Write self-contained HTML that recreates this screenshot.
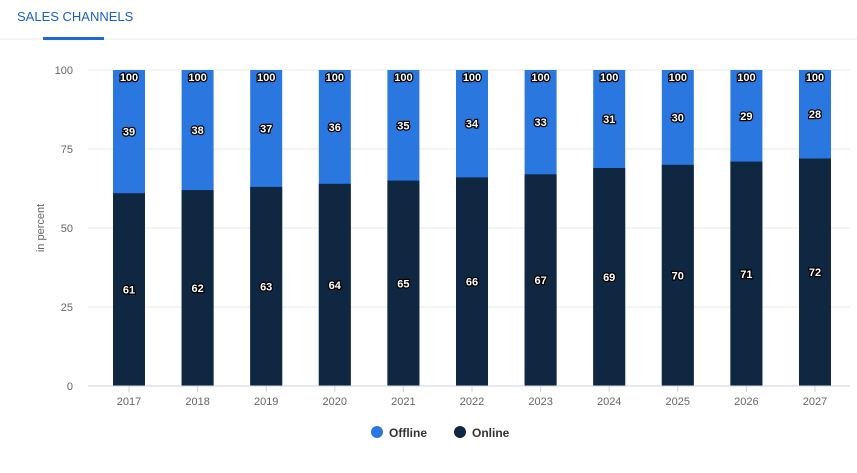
<!DOCTYPE html>
<html><head><style>
body{margin:0;background:#fff;width:857px;height:468px;overflow:hidden;font-family:"Liberation Sans",sans-serif}
.l{font:bold 11px "Liberation Sans",sans-serif;fill:#fff;stroke:#000;stroke-width:2.5px;paint-order:stroke;text-anchor:middle}
.t{font-size:11px;fill:#666;text-anchor:middle;font-family:"Liberation Sans",sans-serif}
.b{fill:#2a77e0}.d{fill:#0f2741}
</style></head><body>
<svg width="857" height="468" xmlns="http://www.w3.org/2000/svg">
<text x="17" y="21" font-family="Liberation Sans" font-size="13" fill="#1a5fc7">SALES CHANNELS</text>
<line x1="0" y1="39" x2="857" y2="39" stroke="#eceef1" stroke-width="1"/>
<rect x="43" y="37" width="61" height="3" fill="#1a6ad8"/>
<g stroke="#e6e8ec" stroke-width="1">
<line x1="88" y1="70" x2="850" y2="70"/><line x1="88" y1="149" x2="850" y2="149"/>
<line x1="88" y1="228" x2="850" y2="228"/><line x1="88" y1="307" x2="850" y2="307"/>
</g>
<g font-size="11" fill="#666" text-anchor="end" font-family="Liberation Sans">
<text x="73" y="74">100</text><text x="73" y="153">75</text><text x="73" y="232">50</text><text x="73" y="311">25</text><text x="73" y="390">0</text>
</g>
<text transform="translate(44,228) rotate(-90)" font-size="11" fill="#666" text-anchor="middle" font-family="Liberation Sans">in percent</text>

<g id="b0"><rect class="b" x="113" y="70" width="32" height="316"/><rect class="d" x="113" y="193.2" width="32" height="192.8"/>
<text class="l" x="129" y="81">100</text><text class="l" x="129" y="135.6">39</text><text class="l" x="129" y="293.6">61</text><text class="t" x="129" y="405">2017</text></g>
<g><rect class="b" x="181.6" y="70" width="32" height="316"/><rect class="d" x="181.6" y="190.1" width="32" height="195.9"/>
<text class="l" x="197.6" y="81">100</text><text class="l" x="197.6" y="134">38</text><text class="l" x="197.6" y="292">62</text><text class="t" x="197.6" y="405">2018</text></g>
<g><rect class="b" x="250.2" y="70" width="32" height="316"/><rect class="d" x="250.2" y="186.9" width="32" height="199.1"/>
<text class="l" x="266.2" y="81">100</text><text class="l" x="266.2" y="132.5">37</text><text class="l" x="266.2" y="290.5">63</text><text class="t" x="266.2" y="405">2019</text></g>
<g><rect class="b" x="318.8" y="70" width="32" height="316"/><rect class="d" x="318.8" y="183.8" width="32" height="202.2"/>
<text class="l" x="334.8" y="81">100</text><text class="l" x="334.8" y="130.9">36</text><text class="l" x="334.8" y="288.9">64</text><text class="t" x="334.8" y="405">2020</text></g>
<g><rect class="b" x="387.4" y="70" width="32" height="316"/><rect class="d" x="387.4" y="180.6" width="32" height="205.4"/>
<text class="l" x="403.4" y="81">100</text><text class="l" x="403.4" y="129.3">35</text><text class="l" x="403.4" y="287.3">65</text><text class="t" x="403.4" y="405">2021</text></g>
<g><rect class="b" x="456" y="70" width="32" height="316"/><rect class="d" x="456" y="177.4" width="32" height="208.6"/>
<text class="l" x="472" y="81">100</text><text class="l" x="472" y="127.7">34</text><text class="l" x="472" y="285.7">66</text><text class="t" x="472" y="405">2022</text></g>
<g><rect class="b" x="524.6" y="70" width="32" height="316"/><rect class="d" x="524.6" y="174.3" width="32" height="211.7"/>
<text class="l" x="540.6" y="81">100</text><text class="l" x="540.6" y="126.1">33</text><text class="l" x="540.6" y="284.1">67</text><text class="t" x="540.6" y="405">2023</text></g>
<g><rect class="b" x="593.2" y="70" width="32" height="316"/><rect class="d" x="593.2" y="168" width="32" height="218"/>
<text class="l" x="609.2" y="81">100</text><text class="l" x="609.2" y="123">31</text><text class="l" x="609.2" y="281">69</text><text class="t" x="609.2" y="405">2024</text></g>
<g><rect class="b" x="661.8" y="70" width="32" height="316"/><rect class="d" x="661.8" y="164.8" width="32" height="221.2"/>
<text class="l" x="677.8" y="81">100</text><text class="l" x="677.8" y="121.4">30</text><text class="l" x="677.8" y="279.4">70</text><text class="t" x="677.8" y="405">2025</text></g>
<g><rect class="b" x="730.4" y="70" width="32" height="316"/><rect class="d" x="730.4" y="161.6" width="32" height="224.4"/>
<text class="l" x="746.4" y="81">100</text><text class="l" x="746.4" y="119.8">29</text><text class="l" x="746.4" y="277.8">71</text><text class="t" x="746.4" y="405">2026</text></g>
<g><rect class="b" x="799" y="70" width="32" height="316"/><rect class="d" x="799" y="158.5" width="32" height="227.5"/>
<text class="l" x="815" y="81">100</text><text class="l" x="815" y="118.2">28</text><text class="l" x="815" y="276.2">72</text><text class="t" x="815" y="405">2027</text></g>

<line x1="88" y1="386" x2="850" y2="386" stroke="#cdd3dc"/>
<g stroke="#cdd3dc">
<line x1="129" y1="386" x2="129" y2="392"/><line x1="197.6" y1="386" x2="197.6" y2="392"/><line x1="266.2" y1="386" x2="266.2" y2="392"/><line x1="334.8" y1="386" x2="334.8" y2="392"/><line x1="403.4" y1="386" x2="403.4" y2="392"/><line x1="472" y1="386" x2="472" y2="392"/><line x1="540.6" y1="386" x2="540.6" y2="392"/><line x1="609.2" y1="386" x2="609.2" y2="392"/><line x1="677.8" y1="386" x2="677.8" y2="392"/><line x1="746.4" y1="386" x2="746.4" y2="392"/><line x1="815" y1="386" x2="815" y2="392"/>
</g>
<circle cx="377" cy="432" r="6" fill="#2a77e0"/><text x="389" y="437" font-size="12" font-weight="bold" fill="#333" font-family="Liberation Sans">Offline</text>
<circle cx="460" cy="432" r="6" fill="#0f2741"/><text x="472" y="437" font-size="12" font-weight="bold" fill="#333" font-family="Liberation Sans">Online</text>
</svg>
</body></html>
